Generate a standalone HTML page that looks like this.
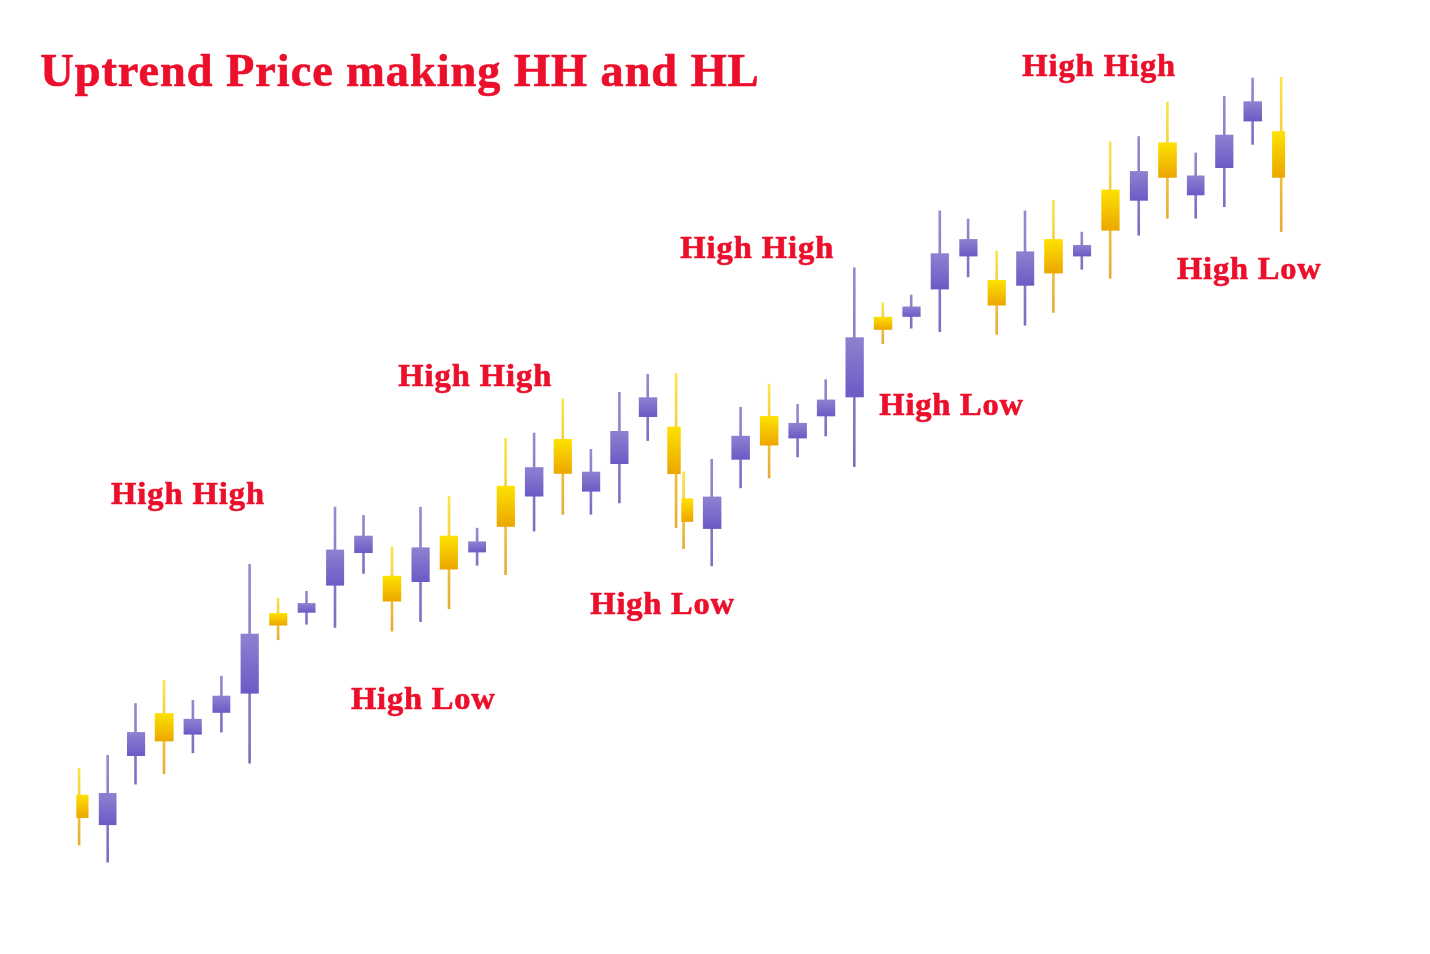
<!DOCTYPE html>
<html lang="en">
<head>
<meta charset="utf-8">
<title>Uptrend Price making HH and HL</title>
<style>
html,body{margin:0;padding:0;background:#fff;}
body{width:1430px;height:954px;overflow:hidden;position:relative;}
svg{position:absolute;left:0;top:0;display:block;}
text{font-family:"Liberation Serif",serif;font-weight:bold;fill:#ec0f2b;stroke:#ec0f2b;stroke-width:0.65px;stroke-linejoin:round;}
</style>
</head>
<body>
<svg width="1430" height="954" viewBox="0 0 1430 954">
<defs>
<linearGradient id="pb" x1="0" y1="0" x2="0" y2="1"><stop offset="0" stop-color="#8f81d0"/><stop offset="1" stop-color="#6a5bc6"/></linearGradient>
<linearGradient id="gb" x1="0" y1="0" x2="0" y2="1"><stop offset="0" stop-color="#fde200"/><stop offset="1" stop-color="#eca600"/></linearGradient>
<linearGradient id="gw" x1="0" y1="0" x2="0" y2="1"><stop offset="0" stop-color="#fbe54a"/><stop offset="1" stop-color="#e6aa33"/></linearGradient>
<linearGradient id="pw" x1="0" y1="0" x2="0" y2="1"><stop offset="0" stop-color="#938cd0"/><stop offset="1" stop-color="#796fc4"/></linearGradient>
</defs>

<g id="candles">
<rect x="77.8" y="768.1" width="2.6" height="77.3" fill="url(#gw)"/>
<rect x="76.3" y="794.8" width="12.2" height="23.2" fill="url(#gb)"/>
<rect x="106.4" y="754.9" width="2.6" height="107.6" fill="url(#pw)"/>
<rect x="98.8" y="793.0" width="17.7" height="32.1" fill="url(#pb)"/>
<rect x="134.2" y="703.2" width="2.6" height="81.3" fill="url(#pw)"/>
<rect x="127.0" y="732.1" width="18.1" height="23.9" fill="url(#pb)"/>
<rect x="162.7" y="680.0" width="2.6" height="94.1" fill="url(#gw)"/>
<rect x="154.8" y="713.2" width="18.8" height="28.2" fill="url(#gb)"/>
<rect x="191.6" y="700.0" width="2.6" height="53.1" fill="url(#pw)"/>
<rect x="183.6" y="718.9" width="18.2" height="15.7" fill="url(#pb)"/>
<rect x="220.1" y="675.8" width="2.6" height="56.6" fill="url(#pw)"/>
<rect x="212.5" y="695.7" width="17.8" height="17.1" fill="url(#pb)"/>
<rect x="248.3" y="563.9" width="2.6" height="199.6" fill="url(#pw)"/>
<rect x="240.6" y="633.7" width="18.2" height="59.9" fill="url(#pb)"/>
<rect x="276.8" y="598.1" width="2.6" height="42.0" fill="url(#gw)"/>
<rect x="269.2" y="613.1" width="18.1" height="12.4" fill="url(#gb)"/>
<rect x="305.2" y="591.0" width="2.6" height="33.6" fill="url(#pw)"/>
<rect x="297.7" y="603.1" width="17.8" height="9.6" fill="url(#pb)"/>
<rect x="333.7" y="506.8" width="2.6" height="121.0" fill="url(#pw)"/>
<rect x="326.1" y="549.6" width="18.0" height="36.0" fill="url(#pb)"/>
<rect x="362.2" y="515.0" width="2.6" height="58.8" fill="url(#pw)"/>
<rect x="354.2" y="535.7" width="18.5" height="17.3" fill="url(#pb)"/>
<rect x="390.7" y="546.9" width="2.6" height="84.6" fill="url(#gw)"/>
<rect x="382.7" y="575.8" width="18.5" height="25.7" fill="url(#gb)"/>
<rect x="419.2" y="506.8" width="2.6" height="115.1" fill="url(#pw)"/>
<rect x="411.5" y="547.4" width="18.2" height="34.6" fill="url(#pb)"/>
<rect x="447.7" y="496.1" width="2.6" height="113.0" fill="url(#gw)"/>
<rect x="439.7" y="535.7" width="18.2" height="33.8" fill="url(#gb)"/>
<rect x="475.8" y="527.8" width="2.6" height="37.8" fill="url(#pw)"/>
<rect x="468.2" y="541.4" width="17.8" height="11.0" fill="url(#pb)"/>
<rect x="504.3" y="438.0" width="2.6" height="136.9" fill="url(#gw)"/>
<rect x="496.7" y="485.8" width="18.2" height="41.0" fill="url(#gb)"/>
<rect x="532.8" y="432.7" width="2.6" height="98.7" fill="url(#pw)"/>
<rect x="524.9" y="467.2" width="18.5" height="29.3" fill="url(#pb)"/>
<rect x="561.5" y="398.5" width="2.6" height="116.3" fill="url(#gw)"/>
<rect x="553.7" y="439.0" width="18.2" height="34.8" fill="url(#gb)"/>
<rect x="589.6" y="449.0" width="2.6" height="65.6" fill="url(#pw)"/>
<rect x="582.0" y="471.7" width="18.2" height="19.9" fill="url(#pb)"/>
<rect x="618.1" y="392.0" width="2.6" height="111.2" fill="url(#pw)"/>
<rect x="610.3" y="431.0" width="18.2" height="33.0" fill="url(#pb)"/>
<rect x="646.4" y="374.0" width="2.6" height="66.9" fill="url(#pw)"/>
<rect x="638.8" y="397.3" width="18.4" height="19.7" fill="url(#pb)"/>
<rect x="674.8" y="373.0" width="2.6" height="155.0" fill="url(#gw)"/>
<rect x="667.3" y="426.6" width="13.4" height="47.4" fill="url(#gb)"/>
<rect x="682.3" y="471.5" width="2.6" height="77.5" fill="url(#gw)"/>
<rect x="681.3" y="498.3" width="11.9" height="23.5" fill="url(#gb)"/>
<rect x="710.4" y="458.9" width="2.6" height="107.3" fill="url(#pw)"/>
<rect x="702.9" y="496.6" width="18.5" height="32.3" fill="url(#pb)"/>
<rect x="739.3" y="406.9" width="2.6" height="81.3" fill="url(#pw)"/>
<rect x="731.4" y="435.8" width="18.5" height="23.9" fill="url(#pb)"/>
<rect x="767.8" y="383.9" width="2.6" height="94.3" fill="url(#gw)"/>
<rect x="759.9" y="416.1" width="18.5" height="29.4" fill="url(#gb)"/>
<rect x="796.3" y="404.0" width="2.6" height="53.2" fill="url(#pw)"/>
<rect x="788.4" y="422.9" width="18.5" height="15.5" fill="url(#pb)"/>
<rect x="824.4" y="379.3" width="2.6" height="57.0" fill="url(#pw)"/>
<rect x="816.9" y="399.6" width="18.3" height="16.7" fill="url(#pb)"/>
<rect x="853.0" y="267.4" width="2.6" height="199.6" fill="url(#pw)"/>
<rect x="845.5" y="337.3" width="18.3" height="60.0" fill="url(#pb)"/>
<rect x="881.5" y="302.4" width="2.6" height="41.6" fill="url(#gw)"/>
<rect x="873.8" y="316.8" width="18.4" height="13.0" fill="url(#gb)"/>
<rect x="909.9" y="294.7" width="2.6" height="33.8" fill="url(#pw)"/>
<rect x="902.4" y="306.5" width="18.2" height="10.3" fill="url(#pb)"/>
<rect x="938.5" y="210.5" width="2.6" height="121.4" fill="url(#pw)"/>
<rect x="930.7" y="253.3" width="18.2" height="36.1" fill="url(#pb)"/>
<rect x="966.8" y="218.7" width="2.6" height="58.5" fill="url(#pw)"/>
<rect x="959.3" y="239.1" width="18.2" height="17.3" fill="url(#pb)"/>
<rect x="995.4" y="250.8" width="2.6" height="83.9" fill="url(#gw)"/>
<rect x="987.6" y="280.0" width="18.2" height="25.5" fill="url(#gb)"/>
<rect x="1023.7" y="210.5" width="2.6" height="115.1" fill="url(#pw)"/>
<rect x="1016.2" y="251.4" width="18.0" height="34.3" fill="url(#pb)"/>
<rect x="1052.1" y="200.0" width="2.6" height="112.7" fill="url(#gw)"/>
<rect x="1044.2" y="239.1" width="18.6" height="34.3" fill="url(#gb)"/>
<rect x="1080.5" y="231.8" width="2.6" height="37.8" fill="url(#pw)"/>
<rect x="1073.0" y="245.0" width="18.1" height="11.4" fill="url(#pb)"/>
<rect x="1108.9" y="141.6" width="2.6" height="137.1" fill="url(#gw)"/>
<rect x="1101.3" y="189.6" width="18.3" height="41.0" fill="url(#gb)"/>
<rect x="1137.4" y="136.2" width="2.6" height="99.4" fill="url(#pw)"/>
<rect x="1129.9" y="171.1" width="18.0" height="29.6" fill="url(#pb)"/>
<rect x="1166.1" y="101.9" width="2.6" height="116.7" fill="url(#gw)"/>
<rect x="1158.2" y="142.5" width="18.6" height="35.2" fill="url(#gb)"/>
<rect x="1194.4" y="152.6" width="2.6" height="66.0" fill="url(#pw)"/>
<rect x="1186.9" y="175.5" width="17.6" height="19.8" fill="url(#pb)"/>
<rect x="1223.0" y="96.0" width="2.6" height="111.0" fill="url(#pw)"/>
<rect x="1215.2" y="134.7" width="18.2" height="33.3" fill="url(#pb)"/>
<rect x="1251.3" y="77.7" width="2.6" height="67.0" fill="url(#pw)"/>
<rect x="1243.5" y="101.3" width="18.5" height="20.1" fill="url(#pb)"/>
<rect x="1279.9" y="76.8" width="2.6" height="155.0" fill="url(#gw)"/>
<rect x="1272.1" y="131.2" width="12.9" height="46.5" fill="url(#gb)"/>
</g>
<text x="40.3" y="86.2" font-size="46.3" letter-spacing="0.98">Uptrend Price making HH and HL</text>
<text x="111.0" y="504.4" font-size="32.5" letter-spacing="0.95">High High</text>
<text x="351.0" y="708.7" font-size="32.5" letter-spacing="0.8">High Low</text>
<text x="398.3" y="386.2" font-size="32.5" letter-spacing="0.95">High High</text>
<text x="590.3" y="614.3" font-size="32.5" letter-spacing="0.8">High Low</text>
<text x="680.3" y="258.0" font-size="32.5" letter-spacing="0.95">High High</text>
<text x="879.3" y="415.0" font-size="32.5" letter-spacing="0.8">High Low</text>
<text x="1022.2" y="75.6" font-size="32.5" letter-spacing="0.95">High High</text>
<text x="1177.0" y="279.2" font-size="32.5" letter-spacing="0.8">High Low</text>
</svg>
</body>
</html>
